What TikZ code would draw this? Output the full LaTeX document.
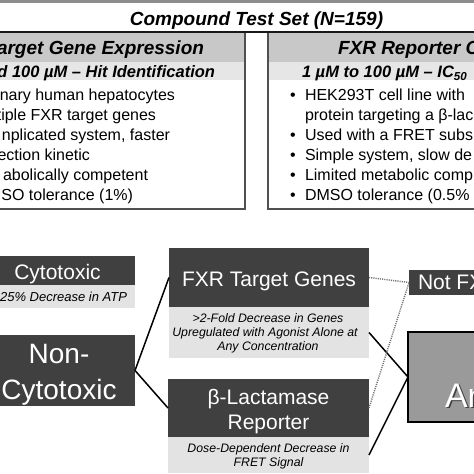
\documentclass[tikz,border=0pt]{standalone}
\usepackage{fontspec}
\setmainfont{Liberation Sans}
\definecolor{dark}{HTML}{404040}
\definecolor{hdr}{HTML}{C8C8C8}
\definecolor{subhdr}{HTML}{E6E6E6}
\definecolor{lite}{HTML}{E3E3E3}
\definecolor{midgray}{HTML}{9A9A9A}
\definecolor{dotgray}{HTML}{707070}
\definecolor{topgray}{HTML}{8C8C8C}
\definecolor{boxline}{HTML}{505050}
\begin{document}
\begin{tikzpicture}[x=1pt,y=-1pt,
  box/.style={inner sep=0pt, outer sep=0pt, anchor=north west},
  darkbox/.style={box, fill=dark},
  litebox/.style={box, fill=lite},
  txt/.style={inner sep=0pt, outer sep=0pt},
  titleT/.style={txt, font=\fontsize{19}{23}\selectfont\bfseries\itshape},
  hdrT/.style={txt, font=\fontsize{19}{23}\selectfont\bfseries\itshape},
  subT/.style={txt, font=\fontsize{16.5}{20}\selectfont\bfseries\itshape},
  bodyT/.style={txt, font=\fontsize{16}{20}\selectfont},
  wbig/.style={txt, text=white, font=\fontsize{21}{25}\selectfont},
  wnon/.style={txt, text=white, font=\fontsize{28}{36}\selectfont},
  smallT/.style={txt, font=\fontsize{12.3}{14.5}\selectfont\itshape},
  conn/.style={line width=1.5pt, black},
  dotconn/.style={line width=1.4pt, dotgray, dash pattern=on 1.1pt off 1.1pt},
  frame/.style={line width=1.2pt, boxline}
]
\useasboundingbox (0,0) rectangle (474,474);
\begin{scope}
\clip (0,0) rectangle (474,474);
\fill[white] (0,0) rectangle (474,474);
\fill[topgray] (0,0) rectangle (474,2.5);
% title
\node[titleT, anchor=base] (title) at (256.5,25) {Compound Test Set (N=159)};
% left box
\fill[hdr] (-5,32) rectangle (245,62);
\fill[subhdr] (-5,62) rectangle (245,80);
\draw[frame] (-5,32) rectangle (245,209);
\node[hdrT, anchor=base east] (lh) at (204,54) {Target Gene Expression};
\node[subT, anchor=base east] (ls) at (215,77.5) {d 100 µM – Hit Identification};
\node[bodyT, anchor=base east] (l1) at (175,100.5) {nary human hepatocytes};
\node[bodyT, anchor=base east] (l2) at (156,120.5) {tiple FXR target genes};
\node[bodyT, anchor=base east] (l3) at (170,140.5) {nplicated system, faster};
\node[bodyT, anchor=base east] (l4) at (90,160.5) {ection kinetic};
\node[bodyT, anchor=base east] (l5) at (148,180.5) {abolically competent};
\node[bodyT, anchor=base east] (l6) at (133,200.5) {SO tolerance (1\%)};
% right box
\fill[hdr] (268,32) rectangle (480,62);
\fill[subhdr] (268,62) rectangle (480,80);
\draw[frame] (268,32) rectangle (480,209);
\node[hdrT, anchor=base west] (rh) at (338,54) {FXR Reporter C};
\node[subT, anchor=base west] (rs) at (302,77.5) {1 µM to 100 µM – IC\textsubscript{50}};
\node[bodyT, anchor=base] (b1) at (293,100.5) {•};
\node[bodyT, anchor=base] (b3) at (293,140.5) {•};
\node[bodyT, anchor=base] (b4) at (293,160.5) {•};
\node[bodyT, anchor=base] (b5) at (293,180.5) {•};
\node[bodyT, anchor=base] (b6) at (293,200.5) {•};
\node[bodyT, anchor=base west] (r1) at (305,100.5) {HEK293T cell line with};
\node[bodyT, anchor=base west] (r2) at (305,120.5) {protein targeting a β-lac};
\node[bodyT, anchor=base west] (r3) at (305,140.5) {Used with a FRET subs};
\node[bodyT, anchor=base west] (r4) at (305,160.5) {Simple system, slow de};
\node[bodyT, anchor=base west] (r5) at (305,180.5) {Limited metabolic comp};
\node[bodyT, anchor=base west] (r6) at (305,200.5) {DMSO tolerance (0.5\%};
\draw[line width=2pt, black!90] (0,32) -- (474,32);
% lower boxes
\node[darkbox, minimum width=155pt, minimum height=29pt] (cyto) at (-20,256) {};
\node[litebox, minimum width=155pt, minimum height=23pt] (cytolbl) at (-20,285) {};
\node[wbig, anchor=base] (cytoT) at (57.5,279.5) {Cytotoxic};
\node[txt, font=\fontsize{13}{15}\selectfont\itshape, anchor=base east] (cytolblT) at (127,301) {25\% Decrease in ATP};

\node[darkbox, minimum width=155pt, minimum height=71pt] (noncyto) at (-20,335) {};
\node[wnon, anchor=base] (nonT1) at (59,363) {Non-};
\node[wnon, anchor=base] (nonT2) at (59,399) {Cytotoxic};

\node[darkbox, minimum width=200pt, minimum height=59pt] (fxr) at (169,248) {};
\node[litebox, minimum width=200pt, minimum height=51pt] (fxrlbl) at (169,307) {};
\node[wbig, anchor=base] (fxrT) at (269,286.5) {FXR Target Genes};
\node[smallT, anchor=base] (fxrL1) at (268,322) {>2-Fold Decrease in Genes};
\node[smallT, anchor=base] (fxrL2) at (265,336) {Upregulated with Agonist Alone at};
\node[smallT, anchor=base] (fxrL3) at (268,350) {Any Concentration};

\node[darkbox, minimum width=201pt, minimum height=58pt] (blac) at (168,379) {};
\node[litebox, minimum width=201pt, minimum height=36pt] (blaclbl) at (168,437) {};
\node[wbig, anchor=base] (blacT1) at (268.5,404) {β-Lactamase};
\node[wbig, anchor=base] (blacT2) at (268.5,429) {Reporter};
\node[smallT, anchor=base] (blacL1) at (268.5,452.5) {Dose-Dependent Decrease in};
\node[smallT, anchor=base] (blacL2) at (268.5,466.5) {FRET Signal};

\node[darkbox, minimum width=80pt, minimum height=25pt] (notfxr) at (409,270) {};
\node[wbig, anchor=base west] (notfxrT) at (418,289.5) {Not FX};

\node[box, fill=midgray, draw=black, line width=1.5pt, minimum width=80pt, minimum height=90pt] (ant) at (408,332) {};
\node[txt, text=black!75, font=\fontsize{34}{40}\selectfont, anchor=base west] (antS) at (446.5,408.5) {Ar};
\node[txt, text=white, font=\fontsize{34}{40}\selectfont, anchor=base west] (antT) at (445,407) {Ar};

% connectors
\draw[conn] (noncyto.east) -- (fxr.west);
\draw[conn] (noncyto.east) -- (blac.west);
\draw[conn] (fxrlbl.east) -- (ant.west);
\draw[conn] (blaclbl.east) -- (ant.west);
\draw[dotconn] (fxr.east) -- (notfxr.west);
\draw[dotconn] (blac.east) -- (notfxr.west);
\end{scope}
\end{tikzpicture}
\end{document}
